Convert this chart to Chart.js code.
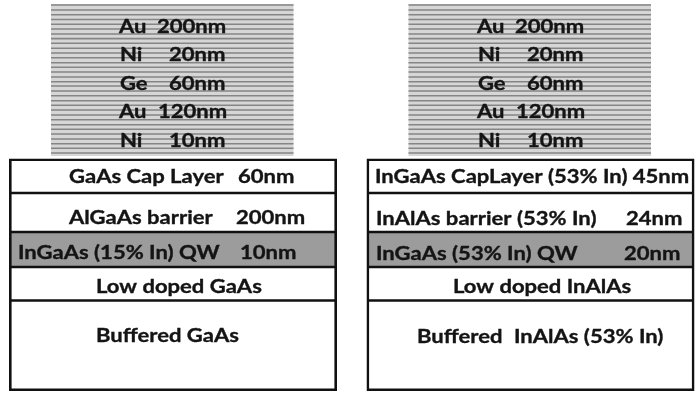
<!DOCTYPE html>
<html>
<head>
<style>
    html, body { margin: 0px; background-color: #ffffff; }
    canvas { display: block; filter: blur(0.35px); }
</style>
</head>
<body>
<canvas id="mainChart" width="700" height="402"></canvas>
<script src="https://cdn.jsdelivr.net/npm/chart.js@4"></script>
<script>
// layer edges, in picture units
const leftStackEdges = [9.5, 336.5];
const rightStackEdges = [367, 694];
const leftMetalEdges = [51, 293.5];
const rightMetalEdges = [408.5, 651];
const metalEdges = [4, 156];
const layerEdges = [158.5, 193, 232, 267, 300.5, 391];
const layerNames = ["cap", "barrier", "qw", "lowDoped", "buffer"];
const metalStripes = [5, 10, 14.7, 19.5, 24.3, 29, 34, 38.6, 43.3, 48.3, 53, 57.7, 62.7, 67.3, 72, 77,
    81.7, 86, 91, 95.7, 100.7, 105.3, 110, 115, 119.7, 124.7, 129.3, 134, 139, 143.7, 148.3, 153];

// texts and where they start / their middle line
const labelTexts = ["Au", "200nm", "Ni", "20nm", "Ge", "60nm", "Au", "120nm", "Ni", "10nm",
    "GaAs Cap Layer", "60nm", "AlGaAs barrier", "200nm", "InGaAs (15% In) QW", "10nm", "Low doped GaAs", "Buffered GaAs",
    "Au", "200nm", "Ni", "20nm", "Ge", "60nm", "Au", "120nm", "Ni", "10nm",
    "InGaAs CapLayer (53% In) 45nm", "InAlAs barrier (53% In)", "24nm", "InGaAs (53% In) QW", "20nm", "Low doped InAlAs", "Buffered", "InAlAs (53% In)"];
const labelX = [119, 157, 120, 169, 120, 169, 119, 158, 120, 169,
    69, 238, 69, 236, 18, 240, 96, 96,
    477, 515, 478, 527, 478, 527, 477, 516, 478, 527,
    375, 376, 626, 376, 624, 453, 417, 514];
const labelY = [27, 55, 84, 112, 141].flatMap(y => [y, y]).concat(
    [177, 177, 218, 218, 253, 253, 287, 336],
    [27, 55, 84, 112, 141].flatMap(y => [y, y]),
    [177, 219, 219, 254, 254, 287, 337, 337]);

function middle(edges) { return (edges[0] + edges[1]) / 2; }
function width(edges) { return edges[1] - edges[0]; }

// y values here are floating bars, the x is the middle of the stack
function layerBars(edges) {
    return layerNames.map((name, i) => ({ x: middle(edges), y: [layerEdges[i], layerEdges[i + 1]] }));
}
function separators(edges) {
    return layerEdges.slice(1, -1).map(y => ({ x: middle(edges), y: [y - 1.3, y + 1.3] }));
}
function stripes(edges) {
    return metalStripes.map(y => ({ x: middle(edges), y: [y - 0.8, y + 0.8] }));
}
function layerColor(ctx) {
    return layerNames[ctx.dataIndex] == "qw" ? "#9c9c9c" : "#ffffff";
}

const base = { borderWidth: 0, inflateAmount: 0, grouped: false };
const datasets = [
    { ...base, order: 6, label: "metal", data: [{ x: middle(leftMetalEdges), y: metalEdges }], barThickness: width(leftMetalEdges), backgroundColor: "#d6d6d6" },
    { ...base, order: 6, label: "metal", data: [{ x: middle(rightMetalEdges), y: metalEdges }], barThickness: width(rightMetalEdges), backgroundColor: "#d6d6d6" },
    { ...base, order: 5, label: "stripes", data: stripes(leftMetalEdges), barThickness: width(leftMetalEdges), backgroundColor: "#858585" },
    { ...base, order: 5, label: "stripes", data: stripes(rightMetalEdges), barThickness: width(rightMetalEdges), backgroundColor: "#858585" },
    { ...base, order: 4, label: "layers", data: layerBars(leftStackEdges), barThickness: width(leftStackEdges), backgroundColor: layerColor },
    { ...base, order: 4, label: "layers", data: layerBars(rightStackEdges), barThickness: width(rightStackEdges), backgroundColor: layerColor },
    { ...base, order: 3, label: "lines", data: separators(leftStackEdges), barThickness: width(leftStackEdges), backgroundColor: "#111111" },
    { ...base, order: 3, label: "lines", data: separators(rightStackEdges), barThickness: width(rightStackEdges), backgroundColor: "#111111" },
    { ...base, order: 2, label: "box", data: [{ x: middle(leftStackEdges), y: [layerEdges[0], layerEdges[5]] }], barThickness: width(leftStackEdges) + 1, backgroundColor: "transparent", borderColor: "#111111", borderWidth: 2.6, borderSkipped: false },
    { ...base, order: 2, label: "box", data: [{ x: middle(rightStackEdges), y: [layerEdges[0], layerEdges[5]] }], barThickness: width(rightStackEdges) + 1, backgroundColor: "transparent", borderColor: "#111111", borderWidth: 2.6, borderSkipped: false }
];

// draws the layer names on top of the bars, reference text is stretched sideways
const textStretch = 1.13;
const layerLabels = {
    id: "layerLabels",
    afterDraw(chart) {
        const c = chart.ctx;
        c.font = "bold 19.5px Lato";
        c.fillStyle = "#141414";
        c.strokeStyle = "#141414";
        c.lineWidth = 0.35;
        c.textBaseline = "middle";
        labelTexts.forEach((text, i) => {
            c.save();
            c.translate(chart.scales.x.getPixelForValue(labelX[i]), chart.scales.y.getPixelForValue(labelY[i]));
            c.scale(textStretch, 1);
            c.fillText(text, 0, 0);
            c.strokeText(text, 0, 0);
            c.restore();
        });
    }
};

new Chart(document.getElementById("mainChart"), {
    type: "bar",
    data: { datasets: datasets },
    plugins: [layerLabels],
    options: {
        responsive: false,
        animation: false,
        devicePixelRatio: 1,
        layout: { padding: 0 },
        plugins: { legend: { display: false }, tooltip: { enabled: false } },
        scales: {
            x: { type: "linear", min: 0, max: 700, offset: false, display: false },
            y: { type: "linear", min: 0, max: 402, reverse: true, display: false }
        }
    }
});
</script>
</body>
</html>
